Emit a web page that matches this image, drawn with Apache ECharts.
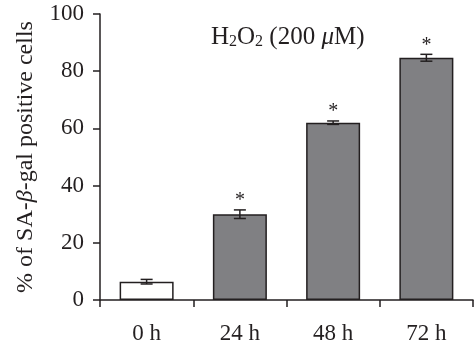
<!DOCTYPE html>
<html>
<head>
<meta charset="utf-8">
<script src="https://cdn.jsdelivr.net/npm/echarts@6/dist/echarts.min.js"></script>
<style>
    html, body { margin: 0; padding: 0; background: #fff; }
    #chart { width: 474px; height: 350px; }
</style>
</head>
<body>
<div id="chart"></div>
<script>
'use strict';

// data
var categories = ['0 h', '24 h', '48 h', '72 h'];
var values = [6.4, 30.0, 62.0, 84.7];
var errors = [0.8, 1.5, 0.6, 1.2];
var marks = ['', '*', '*', '*'];
var yTicks = [0, 20, 40, 60, 80, 100];

var serif = '"Liberation Serif", "DejaVu Serif", serif';
var ink = '#231f20';
var barFill = ['#ffffff', '#808083', '#808083', '#808083'];

var chart = echarts.init(document.getElementById('chart'));

var barData = values.map(function (v, i) {
    return { value: v, itemStyle: { color: barFill[i] } };
});
var errData = values.map(function (v, i) {
    return [i, v, errors[i]];
});

var option = {
    animation: false,
    title: {
        text: '{a|H}{s|2}{a|O}{s|2}{a| (200 }{i|μ}{a|M)}',
        left: 206,
        top: 19,
        textStyle: {
            rich: {
                a: { fontFamily: serif, fontSize: 25, fontWeight: 'normal', color: ink, lineHeight: 26 },
                s: { fontFamily: serif, fontSize: 16, fontWeight: 'normal', color: ink, lineHeight: 26, padding: [10, 0, 0, 0] },
                i: { fontFamily: serif, fontSize: 25, fontWeight: 'normal', color: ink, fontStyle: 'italic', lineHeight: 26 }
            }
        }
    },
    grid: { left: 100, right: 1, top: 14, bottom: 50 },
    xAxis: {
        type: 'category',
        data: categories,
        axisLine: { lineStyle: { color: ink, width: 1.5 } },
        axisTick: { show: true, length: 7, lineStyle: { color: ink, width: 1.5 } },
        axisLabel: { fontFamily: serif, fontSize: 23, color: ink, margin: 22 }
    },
    yAxis: {
        type: 'value',
        min: yTicks[0],
        max: yTicks[yTicks.length - 1],
        interval: 20,
        name: '{a|% of SA-}{i|β}{a|-gal positive cells}',
        nameLocation: 'middle',
        nameGap: 62,
        nameTextStyle: {
            rich: {
                a: { fontFamily: serif, fontSize: 24, color: ink },
                i: { fontFamily: serif, fontSize: 24, color: ink, fontStyle: 'italic' }
            }
        },
        splitLine: { show: false },
        axisLine: { show: true, lineStyle: { color: ink, width: 1.5 } },
        axisTick: { show: true, length: 7, lineStyle: { color: ink, width: 1.5 } },
        axisLabel: { fontFamily: serif, fontSize: 23, color: ink, margin: 16 }
    },
    series: [
        {
            type: 'bar',
            data: barData,
            barWidth: 54,
            itemStyle: { borderColor: ink, borderWidth: 1.5 }
        },
        {
            // error bars + significance stars
            type: 'custom',
            data: errData,
            z: 5,
            renderItem: function (params, api) {
                var idx = api.value(0);
                var v = api.value(1);
                var e = api.value(2);
                var hi = api.coord([idx, v + e]);
                var lo = api.coord([idx, v - e]);
                var cap = 6;
                var st = { stroke: ink, lineWidth: 1.5 };
                var kids = [
                    { type: 'line', shape: { x1: hi[0], y1: hi[1], x2: lo[0], y2: lo[1] }, style: st },
                    { type: 'line', shape: { x1: hi[0] - cap, y1: hi[1], x2: hi[0] + cap, y2: hi[1] }, style: st },
                    { type: 'line', shape: { x1: lo[0] - cap, y1: lo[1], x2: lo[0] + cap, y2: lo[1] }, style: st }
                ];
                var m = marks[params.dataIndex];
                if (m) {
                    kids.push({
                        type: 'text',
                        style: {
                            text: m,
                            x: hi[0],
                            y: hi[1] - 9,
                            textAlign: 'center',
                            textVerticalAlign: 'middle',
                            font: '20px ' + serif,
                            fill: ink
                        }
                    });
                }
                return { type: 'group', children: kids };
            }
        }
    ]
};

chart.setOption(option);
</script>
</body>
</html>
